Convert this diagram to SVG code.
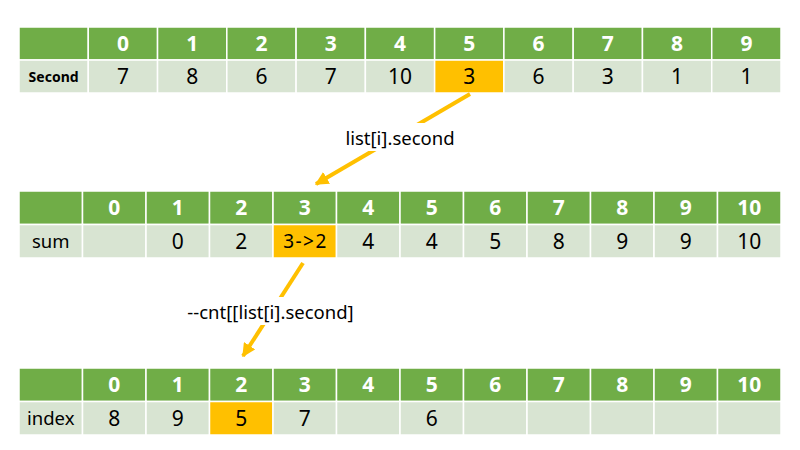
<svg xmlns="http://www.w3.org/2000/svg" width="800" height="450" viewBox="0 0 800 450">
<defs>
<style>
.h{fill:#70AD47;stroke:#fff;stroke-width:1.5}
.c{fill:#D8E4D2;stroke:#fff;stroke-width:1.5}
.o{fill:#FFC000;stroke:#fff;stroke-width:1.5}
text{font-family:"Noto Sans","Liberation Sans",sans-serif;text-anchor:middle}
.ht{fill:#fff;font-weight:bold;font-size:21px}
.vt{fill:#000;font-size:21px}
.lt{fill:#000;font-size:18.5px}
.lb{fill:#000;font-size:18.5px}
.ar{stroke:#FFC000;stroke-width:4;fill:none}
</style>
<marker id="ah" viewBox="0 0 10 10" refX="9" refY="5" markerWidth="3.4" markerHeight="3.4" orient="auto" markerUnits="strokeWidth">
<path d="M0,0 L10,5 L0,10 z" fill="#FFC000"/>
</marker>
</defs>
<rect width="800" height="450" fill="#fff"/>

<g id="table-second">
<rect class="h" x="19" y="27" width="69.27" height="33"/>
<rect class="h" x="88.27" y="27" width="69.27" height="33"/>
<rect class="h" x="157.55" y="27" width="69.27" height="33"/>
<rect class="h" x="226.82" y="27" width="69.27" height="33"/>
<rect class="h" x="296.09" y="27" width="69.27" height="33"/>
<rect class="h" x="365.36" y="27" width="69.27" height="33"/>
<rect class="h" x="434.64" y="27" width="69.27" height="33"/>
<rect class="h" x="503.91" y="27" width="69.27" height="33"/>
<rect class="h" x="573.18" y="27" width="69.27" height="33"/>
<rect class="h" x="642.45" y="27" width="69.27" height="33"/>
<rect class="h" x="711.73" y="27" width="69.27" height="33"/>
<rect class="c" x="19" y="60" width="69.27" height="33"/>
<rect class="c" x="88.27" y="60" width="69.27" height="33"/>
<rect class="c" x="157.55" y="60" width="69.27" height="33"/>
<rect class="c" x="226.82" y="60" width="69.27" height="33"/>
<rect class="c" x="296.09" y="60" width="69.27" height="33"/>
<rect class="c" x="365.36" y="60" width="69.27" height="33"/>
<rect class="o" x="434.64" y="60" width="69.27" height="33"/>
<rect class="c" x="503.91" y="60" width="69.27" height="33"/>
<rect class="c" x="573.18" y="60" width="69.27" height="33"/>
<rect class="c" x="642.45" y="60" width="69.27" height="33"/>
<rect class="c" x="711.73" y="60" width="69.27" height="33"/>
<text class="ht" x="122.9" y="51">0</text>
<text class="ht" x="192.2" y="51">1</text>
<text class="ht" x="261.5" y="51">2</text>
<text class="ht" x="330.7" y="51">3</text>
<text class="ht" x="400" y="51">4</text>
<text class="ht" x="469.3" y="51">5</text>
<text class="ht" x="538.5" y="51">6</text>
<text class="ht" x="607.8" y="51">7</text>
<text class="ht" x="677.1" y="51">8</text>
<text class="ht" x="746.4" y="51">9</text>
<text x="53.6" y="81.5" style="font-weight:bold;font-size:14px">Second</text>
<text class="vt" x="122.9" y="84">7</text>
<text class="vt" x="192.2" y="84">8</text>
<text class="vt" x="261.5" y="84">6</text>
<text class="vt" x="330.7" y="84">7</text>
<text class="vt" x="400" y="84">10</text>
<text class="vt" x="469.3" y="84">3</text>
<text class="vt" x="538.5" y="84">6</text>
<text class="vt" x="607.8" y="84">3</text>
<text class="vt" x="677.1" y="84">1</text>
<text class="vt" x="746.4" y="84">1</text>
</g>

<g id="table-sum">
<rect class="h" x="19" y="191" width="63.5" height="33.5"/>
<rect class="h" x="82.5" y="191" width="63.5" height="33.5"/>
<rect class="h" x="146" y="191" width="63.5" height="33.5"/>
<rect class="h" x="209.5" y="191" width="63.5" height="33.5"/>
<rect class="h" x="273" y="191" width="63.5" height="33.5"/>
<rect class="h" x="336.5" y="191" width="63.5" height="33.5"/>
<rect class="h" x="400" y="191" width="63.5" height="33.5"/>
<rect class="h" x="463.5" y="191" width="63.5" height="33.5"/>
<rect class="h" x="527" y="191" width="63.5" height="33.5"/>
<rect class="h" x="590.5" y="191" width="63.5" height="33.5"/>
<rect class="h" x="654" y="191" width="63.5" height="33.5"/>
<rect class="h" x="717.5" y="191" width="63.5" height="33.5"/>
<rect class="c" x="19" y="224.5" width="63.5" height="33.5"/>
<rect class="c" x="82.5" y="224.5" width="63.5" height="33.5"/>
<rect class="c" x="146" y="224.5" width="63.5" height="33.5"/>
<rect class="c" x="209.5" y="224.5" width="63.5" height="33.5"/>
<rect class="o" x="273" y="224.5" width="63.5" height="33.5"/>
<rect class="c" x="336.5" y="224.5" width="63.5" height="33.5"/>
<rect class="c" x="400" y="224.5" width="63.5" height="33.5"/>
<rect class="c" x="463.5" y="224.5" width="63.5" height="33.5"/>
<rect class="c" x="527" y="224.5" width="63.5" height="33.5"/>
<rect class="c" x="590.5" y="224.5" width="63.5" height="33.5"/>
<rect class="c" x="654" y="224.5" width="63.5" height="33.5"/>
<rect class="c" x="717.5" y="224.5" width="63.5" height="33.5"/>
<text class="ht" x="114.25" y="215">0</text>
<text class="ht" x="177.75" y="215">1</text>
<text class="ht" x="241.25" y="215">2</text>
<text class="ht" x="304.75" y="215">3</text>
<text class="ht" x="368.25" y="215">4</text>
<text class="ht" x="431.75" y="215">5</text>
<text class="ht" x="495.25" y="215">6</text>
<text class="ht" x="558.75" y="215">7</text>
<text class="ht" x="622.25" y="215">8</text>
<text class="ht" x="685.75" y="215">9</text>
<text class="ht" x="749.25" y="215">10</text>
<text class="lt" x="50.75" y="247.5">sum</text>
<text class="vt" x="177.75" y="248.5">0</text>
<text class="vt" x="241.25" y="248.5">2</text>
<text x="305.5" y="248" style="font-size:19px;letter-spacing:1.5px">3-&gt;2</text>
<text class="vt" x="368.25" y="248.5">4</text>
<text class="vt" x="431.75" y="248.5">4</text>
<text class="vt" x="495.25" y="248.5">5</text>
<text class="vt" x="558.75" y="248.5">8</text>
<text class="vt" x="622.25" y="248.5">9</text>
<text class="vt" x="685.75" y="248.5">9</text>
<text class="vt" x="749.25" y="248.5">10</text>
</g>

<g id="table-index">
<rect class="h" x="19" y="368" width="63.5" height="33.5"/>
<rect class="h" x="82.5" y="368" width="63.5" height="33.5"/>
<rect class="h" x="146" y="368" width="63.5" height="33.5"/>
<rect class="h" x="209.5" y="368" width="63.5" height="33.5"/>
<rect class="h" x="273" y="368" width="63.5" height="33.5"/>
<rect class="h" x="336.5" y="368" width="63.5" height="33.5"/>
<rect class="h" x="400" y="368" width="63.5" height="33.5"/>
<rect class="h" x="463.5" y="368" width="63.5" height="33.5"/>
<rect class="h" x="527" y="368" width="63.5" height="33.5"/>
<rect class="h" x="590.5" y="368" width="63.5" height="33.5"/>
<rect class="h" x="654" y="368" width="63.5" height="33.5"/>
<rect class="h" x="717.5" y="368" width="63.5" height="33.5"/>
<rect class="c" x="19" y="401.5" width="63.5" height="33.5"/>
<rect class="c" x="82.5" y="401.5" width="63.5" height="33.5"/>
<rect class="c" x="146" y="401.5" width="63.5" height="33.5"/>
<rect class="o" x="209.5" y="401.5" width="63.5" height="33.5"/>
<rect class="c" x="273" y="401.5" width="63.5" height="33.5"/>
<rect class="c" x="336.5" y="401.5" width="63.5" height="33.5"/>
<rect class="c" x="400" y="401.5" width="63.5" height="33.5"/>
<rect class="c" x="463.5" y="401.5" width="63.5" height="33.5"/>
<rect class="c" x="527" y="401.5" width="63.5" height="33.5"/>
<rect class="c" x="590.5" y="401.5" width="63.5" height="33.5"/>
<rect class="c" x="654" y="401.5" width="63.5" height="33.5"/>
<rect class="c" x="717.5" y="401.5" width="63.5" height="33.5"/>
<text class="ht" x="114.25" y="392">0</text>
<text class="ht" x="177.75" y="392">1</text>
<text class="ht" x="241.25" y="392">2</text>
<text class="ht" x="304.75" y="392">3</text>
<text class="ht" x="368.25" y="392">4</text>
<text class="ht" x="431.75" y="392">5</text>
<text class="ht" x="495.25" y="392">6</text>
<text class="ht" x="558.75" y="392">7</text>
<text class="ht" x="622.25" y="392">8</text>
<text class="ht" x="685.75" y="392">9</text>
<text class="ht" x="749.25" y="392">10</text>
<text class="lt" x="50.75" y="424.5">index</text>
<text class="vt" x="114.25" y="425.5">8</text>
<text class="vt" x="177.75" y="425.5">9</text>
<text class="vt" x="241.25" y="425.5">5</text>
<text class="vt" x="304.75" y="425.5">7</text>
<text class="vt" x="431.75" y="425.5">6</text>
</g>

<g id="connectors">
<line class="ar" x1="470" y1="94" x2="316" y2="184" marker-end="url(#ah)"/>
<rect x="340" y="123" width="120" height="28" fill="#fff"/>
<text class="lb" x="400" y="144.5">list[i].second</text>
<line class="ar" x1="303" y1="263" x2="243" y2="356" marker-end="url(#ah)"/>
<rect x="180" y="297" width="181" height="28" fill="#fff"/>
<text class="lb" x="270.5" y="318.5">--cnt[[list[i].second]</text>
</g>
</svg>
